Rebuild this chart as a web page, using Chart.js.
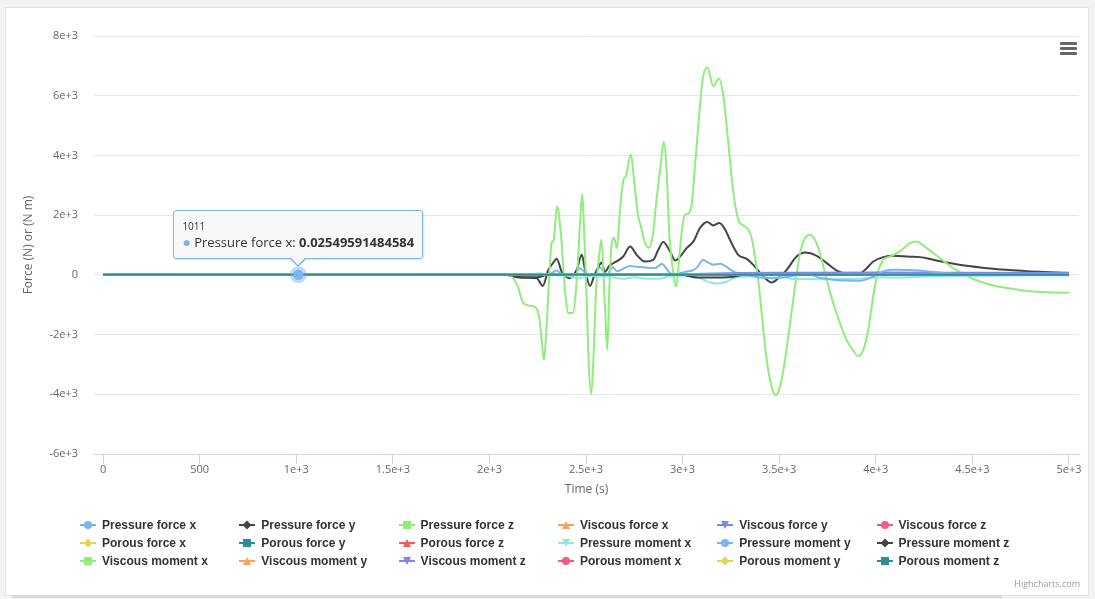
<!DOCTYPE html>
<html>
<head>
<meta charset="utf-8">
<script src="https://cdn.jsdelivr.net/npm/chart.js@4/dist/chart.umd.min.js"></script>
<style>
html,body{margin:0;padding:0;width:1095px;height:599px;overflow:hidden;background:#f3f3f3;font-family:"Open Sans",sans-serif;}
#frame{position:absolute;left:5px;top:7px;width:1084px;height:589px;background:#fff;border:1px solid #e2e2e2;box-sizing:border-box;}
#bar{position:absolute;left:12px;top:595px;width:990px;height:3px;background:#d9d9d9;}
#c{position:absolute;left:0;top:0;}
#legend{position:absolute;left:0;top:0;}
.li{position:absolute;height:16px;display:flex;align-items:center;white-space:nowrap;font-family:"Liberation Sans",Arial,sans-serif;font-weight:bold;font-size:12px;color:#333;}
.li svg{margin-right:6px;flex:none;}
#menu{position:absolute;left:1060px;top:42px;width:17px;}
#menu span{display:block;height:3px;background:#666;margin-bottom:2px;border-radius:1px;}
#credits{position:absolute;right:15px;top:577px;font-size:9px;color:#999;}
#tip{position:absolute;display:none;background:rgba(247,247,247,0.88);border:1px solid #7cb5ec;border-radius:3px;padding:8px 8px 7px 8px;color:#333;white-space:nowrap;box-shadow:1px 1px 2px rgba(0,0,0,0.12);font-family:"Open Sans",sans-serif;}
#tip .t{font-size:10px;line-height:14px;}
#tip .b{font-size:13px;line-height:17px;}
#tip .b b{font-weight:bold;}
#tip .caret{position:absolute;left:50%;bottom:-9px;width:0;height:0;margin-left:-8px;border-left:8px solid transparent;border-right:8px solid transparent;border-top:8px solid #7cb5ec;}
#tip .caret:after{content:"";position:absolute;left:-7px;top:-9px;width:0;height:0;border-left:7px solid transparent;border-right:7px solid transparent;border-top:7px solid #f7f7f7;}
</style>
</head>
<body>
<div id="frame"></div>
<div id="bar"></div>
<canvas id="c" width="1095" height="599"></canvas>
<div id="legend"></div>
<div id="menu"><span></span><span></span><span></span></div>
<div id="credits">Highcharts.com</div>
<div id="tip"></div>
<script>
// ---------- data ----------
const seriesNames = [
  'Pressure force x','Pressure force y','Pressure force z',
  'Viscous force x','Viscous force y','Viscous force z',
  'Porous force x','Porous force y','Porous force z',
  'Pressure moment x','Pressure moment y','Pressure moment z',
  'Viscous moment x','Viscous moment y','Viscous moment z',
  'Porous moment x','Porous moment y','Porous moment z'
];
const palette = ['#7cb5ec','#434348','#90ed7d','#f7a35c','#8085e9','#f15c80','#e4d354','#2b908f','#f45b5b','#91e8e1'];
const markerShapes = ['circle','diamond','square','triangle','triangle-down'];

const hoverTime = 1011;

// Pressure force x
const tPFx = [0, 1011, 2000, 2250, 2318, 2348, 2375, 2400, 2440, 2469,
  2500, 2521, 2545, 2572, 2590, 2607, 2638, 2660, 2676, 2728,
  2760, 2797, 2830, 2860, 2892, 2935, 2960, 2990, 3021, 3050,
  3075, 3107, 3130, 3159, 3194, 3220, 3263, 3300, 3350, 3500, 5000];
const pressureForceX = [0, 0.02549591484584, 0, 0, 45, 145, 20, 0, 30, 225,
  30, -30, 30, 258, 120, 0, 258, 120, 150, 300,
  270, 258, 230, 240, 360, 56, 0, 60, 112, 145,
  250, 504, 420, 336, 370, 300, 112, 30, 10, 0, 0];

// Pressure force y
const tPFy = [0, 2000, 2080, 2141, 2200, 2245, 2276, 2305, 2330, 2348,
  2374, 2414, 2452, 2478, 2495, 2521, 2541, 2564, 2581, 2598,
  2620, 2641, 2693, 2728, 2762, 2805, 2848, 2874, 2900, 2935,
  2961, 2987, 3021, 3056, 3090, 3128, 3159, 3190, 3220, 3245,
  3288, 3332, 3366, 3418, 3461, 3504, 3539, 3590, 3634, 3694,
  3746, 3798, 3849, 3918, 3953, 3987, 4039, 4091, 4177, 4229,
  4298, 4367, 4470, 4574, 4677, 4781, 4902, 5000];
const pressureForceY = [0, 0, 0, -80, -100, -110, -370, 170, 400, 540,
  110, -110, 170, 670, 170, -370, -55, 260, 410, 100,
  300, 390, 615, 950, 670, 445, 500, 840, 1100, 780,
  480, 615, 895, 1120, 1570, 1771, 1657, 1737, 1520, 1176,
  672, 537, 336, -56, -258, -56, 168, 615, 750, 638,
  392, 145, 56, 56, 224, 448, 594, 638, 605, 594,
  504, 414, 302, 224, 168, 123, 90, 67];

// Pressure force z
const tPFz = [0, 2000, 2075, 2107, 2146, 2176, 2219, 2240, 2257, 2272,
  2282, 2294, 2310, 2322, 2332, 2350, 2371, 2391, 2408, 2431,
  2452, 2469, 2480, 2490, 2503, 2514, 2527, 2538, 2552, 2564,
  2580, 2592, 2601, 2610, 2620, 2633, 2645, 2660, 2676, 2693,
  2707, 2732, 2750, 2770, 2784, 2805, 2825, 2845, 2865, 2886,
  2902, 2916, 2932, 2947, 2967, 2983, 2997, 3011, 3032, 3048,
  3064, 3081, 3104, 3128, 3159, 3188, 3211, 3228, 3245, 3263,
  3288, 3314, 3340, 3357, 3375, 3387, 3401, 3418, 3438, 3461,
  3483, 3504, 3530, 3556, 3582, 3608, 3634, 3659, 3685, 3711,
  3746, 3780, 3815, 3849, 3884, 3909, 3935, 3961, 3987, 4013,
  4039, 4074, 4125, 4177, 4212, 4263, 4332, 4401, 4470, 4539,
  4608, 4695, 4781, 4884, 5000];
const pressureForceZ = [0, 0, 40, 0, -380, -950, -1040, -1100, -1390, -2285,
  -2850, -1950, 0, 1070, 1150, 2290, 1290, -500, -1280, -1280,
  -170, 1730, 2720, 1510, -730, -2960, -3990, -2860, -500, 390,
  1180, -250, -1500, -2520, -610, 1065, 1240, 900, 2180, 3150,
  3315, 4043, 3091, 1971, 1635, 1075, 907, 1300, 2531, 3651,
  4458, 3650, 1300, 291, -380, 627, 1523, 2000, 2060, 2420,
  3650, 4985, 6550, 6945, 6327, 6575, 5990, 4985, 3865, 2745,
  1850, 1657, 1520, 1250, 600, 56, -728, -1848, -2968, -3752,
  -4030, -3752, -2856, -1624, -392, 728, 1232, 1344, 1176, 728,
  -168, -952, -1624, -2184, -2542, -2722, -2520, -1848, -700, 140,
  504, 616, 784, 1064, 1120, 896, 560, 224, -34, -224,
  -358, -459, -538, -582, -600];

// Viscous force y
const tVFy = [0, 2900, 3100, 3300, 3600, 4000, 4500, 5000];
const viscousForceY = [0, 0, 40, 60, 70, 80, 70, 60];

// Pressure moment x
const tPMx = [0, 2200, 2262, 2300, 2400, 2460, 2520, 2600, 2693, 2750,
  2810, 2880, 2935, 3000, 3090, 3140, 3176, 3220, 3263, 3320,
  3400, 3500, 3560, 3640, 3720, 3800, 3900, 3980, 4040, 4100,
  4200, 4400, 5000];
const pressureMomentX = [0, 0, 56, 0, -30, -112, -40, -50, -134, -80,
  -134, -134, -40, -30, -112, -250, -290, -250, -112, -60,
  -30, -20, -130, -140, -150, -140, -130, -100, -80, -90,
  -70, -40, -20];

// Pressure moment y
const tPMy = [0, 3300, 3418, 3460, 3504, 3560, 3640, 3711, 3780, 3850,
  3900, 3935, 3987, 4030, 4090, 4180, 4260, 4350, 4500, 5000];
const pressureMomentY = [0, 0, -100, -112, -100, -45, 40, -100, -160, -190,
  -200, -180, -60, 100, 168, 160, 120, 60, 20, 0];

// Pressure moment z
const tPMz = [0, 2100, 2150, 2250, 2300, 3000, 3060, 3150, 3250, 3320, 5000];
const pressureMomentZ = [0, 0, -70, -80, 0, 0, -80, -90, -70, 0, 0];

// series that stay at zero over the whole run
const tFlat = [0, 5000];
const flatZero = [0, 0];

const seriesTimes = [tPFx, tPFy, tPFz, tFlat, tVFy, tFlat, tFlat, tFlat, tFlat,
  tPMx, tPMy, tPMz, tFlat, tFlat, tFlat, tFlat, tFlat, tFlat];
const seriesValues = [pressureForceX, pressureForceY, pressureForceZ, flatZero, viscousForceY, flatZero,
  flatZero, flatZero, flatZero, pressureMomentX, pressureMomentY, pressureMomentZ,
  flatZero, flatZero, flatZero, flatZero, flatZero, flatZero];

const xTickValues = [0, 500, 1000, 1500, 2000, 2500, 3000, 3500, 4000, 4500, 5000];
const xTickLabels = ['0', '500', '1e+3', '1.5e+3', '2e+3', '2.5e+3', '3e+3', '3.5e+3', '4e+3', '4.5e+3', '5e+3'];
const yTickValues = [-6000, -4000, -2000, 0, 2000, 4000, 6000, 8000];
const yTickLabels = ['-6e+3', '-4e+3', '-2e+3', '0', '2e+3', '4e+3', '6e+3', '8e+3'];

// ---------- chart ----------
const n = seriesNames.length;
const datasets = seriesNames.map((name, i) => {
  const col = palette[i % palette.length];
  const ds = {
    label: name,
    data: seriesTimes[i].map((t, k) => ({x: t, y: seriesValues[i][k]})),
    borderColor: col,
    backgroundColor: col,
    borderWidth: 2,
    pointRadius: 0,
    pointHoverRadius: 0,
    cubicInterpolationMode: 'monotone',
    fill: false,
    order: n - 1 - i,
    shape: markerShapes[i % markerShapes.length]
  };
  if (i === 0) {
    ds.pointHoverRadius = 5;
    ds.pointHoverBorderWidth = 7;
    ds.pointHoverBackgroundColor = col;
    ds.pointHoverBorderColor = 'rgba(124,181,236,0.28)';
  }
  return ds;
});

function externalTip(context) {
  const tt = context.tooltip;
  const el = document.getElementById('tip');
  if (!tt.dataPoints || !tt.dataPoints.length) { el.style.display = 'none'; return; }
  const dp = tt.dataPoints[0];
  el.innerHTML = '<div class="t">' + dp.raw.x + '</div>' +
    '<div class="b"><span style="color:' + dp.dataset.borderColor + ';font-size:14px">\u25CF</span> ' +
    dp.dataset.label + ': <b>' + dp.raw.y + '</b></div><div class="caret"></div>';
  el.style.display = 'block';
  const w = el.offsetWidth, h = el.offsetHeight;
  el.style.left = (tt.caretX - w / 2) + 'px';
  el.style.top = (tt.caretY - 16 - h) + 'px';
}

const activeOnTop = {
  id: 'activeOnTop',
  afterDatasetsDraw(chart) {
    chart.getActiveElements().forEach(a => a.element.draw(chart.ctx, chart.chartArea));
  }
};

const chart = new Chart(document.getElementById('c'), {
  type: 'line',
  data: {datasets},
  plugins: [activeOnTop],
  options: {
    responsive: false,
    animation: false,
    events: [],
    layout: {padding: {left: 0, top: 36, right: 16, bottom: 95}},
    scales: {
      x: {
        type: 'linear',
        min: -47, max: 5052,
        afterBuildTicks: s => { s.ticks = xTickValues.map(v => ({value: v})); },
        afterFit: s => { s.height = 50; },
        ticks: {
          color: '#666', font: {family: '"Open Sans", sans-serif', size: 11}, padding: -1,
          maxRotation: 0, autoSkip: false,
          callback: v => xTickLabels[xTickValues.indexOf(v)]
        },
        grid: {drawOnChartArea: false, drawTicks: true, tickLength: 10, color: '#ccd6eb', tickColor: '#ccd6eb'},
        border: {display: true, color: '#ccd6eb', width: 1},
        title: {display: true, text: 'Time (s)', color: '#666', font: {family: '"Open Sans", sans-serif', size: 12}, padding: {top: 0, bottom: 7}}
      },
      y: {
        min: -6000, max: 8000,
        afterBuildTicks: s => { s.ticks = yTickValues.map(v => ({value: v})); },
        afterFit: s => { s.width = 94; },
        ticks: {
          color: '#666', font: {family: '"Open Sans", sans-serif', size: 11}, padding: 16,
          callback: v => yTickLabels[yTickValues.indexOf(v)]
        },
        grid: {color: '#e6e6e6', drawTicks: false},
        border: {display: false},
        title: {display: true, text: 'Force (N) or (N m)', color: '#666', font: {family: '"Open Sans", sans-serif', size: 12}, padding: {top: 21, bottom: 0}}
      }
    },
    plugins: {
      legend: {display: false},
      tooltip: {enabled: false, animation: false, external: externalTip}
    }
  }
});

// hovered point with tooltip
const hoverIndex = tPFx.indexOf(hoverTime);
const act = [{datasetIndex: 0, index: hoverIndex}];
chart.setActiveElements(act);
chart.update();
const pm = chart.getDatasetMeta(0).data[hoverIndex];
chart.tooltip.setActiveElements(act, {x: pm.x, y: pm.y});
chart.draw();

// ---------- legend ----------
function symbolSvg(color, shape) {
  let m = '';
  if (shape === 'circle') m = '<circle cx="8" cy="8" r="4" fill="' + color + '"/>';
  else if (shape === 'diamond') m = '<path d="M8 3.5 L12.5 8 L8 12.5 L3.5 8 Z" fill="' + color + '"/>';
  else if (shape === 'square') m = '<rect x="4" y="4" width="8" height="8" fill="' + color + '"/>';
  else if (shape === 'triangle') m = '<path d="M8 4 L12 12 L4 12 Z" fill="' + color + '"/>';
  else m = '<path d="M4 4 L12 4 L8 12 Z" fill="' + color + '"/>';
  return '<svg width="16" height="16" viewBox="0 0 16 16"><line x1="0" y1="8" x2="16" y2="8" stroke="' + color + '" stroke-width="2"/>' + m + '</svg>';
}
const legendEl = document.getElementById('legend');
chart.data.datasets.forEach((ds, i) => {
  const col = i % 6, row = Math.floor(i / 6);
  const d = document.createElement('div');
  d.className = 'li';
  d.style.left = (80 + col * 159.3) + 'px';
  d.style.top = (517 + row * 18) + 'px';
  d.innerHTML = symbolSvg(ds.borderColor, ds.shape) + '<span>' + ds.label + '</span>';
  legendEl.appendChild(d);
});
</script>
</body>
</html>
